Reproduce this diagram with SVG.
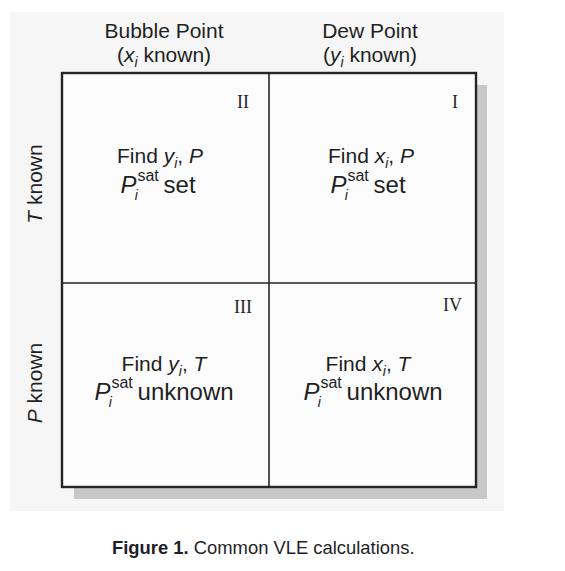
<svg xmlns="http://www.w3.org/2000/svg" width="565" height="571" viewBox="0 0 565 571">
<style>
.t{font-family:"Liberation Sans",Arial,sans-serif;fill:#1f1f1f}
.h{font-size:21px}
.l1{font-size:21px}
.l2{font-size:24px}
.it{font-style:italic}
.sup{font-size:16px}
.sub{font-size:14px;font-style:italic}
.rn{font-family:"Liberation Serif","Times New Roman",serif;font-size:18px;fill:#262626;text-anchor:end}
.ln{stroke:#262626}
.cap{font-family:"Liberation Sans",Arial,sans-serif;font-size:18.4px;fill:#1e1e28}
</style>
<rect width="565" height="571" fill="#ffffff"/>
<rect id="scan" x="10" y="12" width="494" height="499" fill="#f6f6f6"/>
<g id="shadow" fill="#c8c8c8">
<rect x="477" y="85" width="10" height="414"/>
<rect x="74" y="488" width="413" height="11"/>
</g>
<g id="headers">
<text class="t h" x="164" y="38" text-anchor="middle">Bubble Point</text>
<text class="t h" x="164" y="62" text-anchor="middle">(<tspan class="it">x</tspan><tspan class="it" font-size="14" dy="5">i</tspan><tspan dy="-5"> known)</tspan></text>
<text class="t h" x="370" y="38" text-anchor="middle">Dew Point</text>
<text class="t h" x="370" y="62" text-anchor="middle">(<tspan class="it">y</tspan><tspan class="it" font-size="14" dy="5">i</tspan><tspan dy="-5"> known)</tspan></text>
<text class="t h" transform="translate(42 184) rotate(-90)" text-anchor="middle"><tspan class="it">T</tspan> known</text>
<text class="t h" transform="translate(42 383) rotate(-90)" text-anchor="middle"><tspan class="it">P</tspan> known</text>
</g>
<g id="grid">
<rect x="62" y="73" width="414" height="414" style="fill:#fcfcfc;stroke:#262626;stroke-width:2.4"/>
<line class="ln" x1="269" y1="73" x2="269" y2="487" stroke-width="1.6"/>
<line class="ln" x1="62" y1="283" x2="476" y2="283" stroke-width="1.6"/>
</g>
<g id="cell-II">
<text class="rn" x="249" y="108">II</text>
<text class="t l1" x="160" y="163" text-anchor="middle">Find <tspan class="it">y</tspan><tspan class="it" font-size="14" dy="5">i</tspan><tspan dy="-5">, </tspan><tspan class="it">P</tspan></text>
<text class="t l2" x="158" y="193" text-anchor="middle"><tspan class="it">P</tspan><tspan class="sup" dx="1" dy="-12">sat</tspan><tspan class="sub" dx="-24" dy="19">i</tspan><tspan dx="19" dy="-7"> set</tspan></text>
</g>
<g id="cell-I">
<text class="rn" x="458" y="108">I</text>
<text class="t l1" x="371" y="163" text-anchor="middle">Find <tspan class="it">x</tspan><tspan class="it" font-size="14" dy="5">i</tspan><tspan dy="-5">, </tspan><tspan class="it">P</tspan></text>
<text class="t l2" x="368" y="193" text-anchor="middle"><tspan class="it">P</tspan><tspan class="sup" dx="1" dy="-12">sat</tspan><tspan class="sub" dx="-24" dy="19">i</tspan><tspan dx="19" dy="-7"> set</tspan></text>
</g>
<g id="cell-III">
<text class="rn" x="252" y="313">III</text>
<text class="t l1" x="164" y="371" text-anchor="middle">Find <tspan class="it">y</tspan><tspan class="it" font-size="14" dy="5">i</tspan><tspan dy="-5">, </tspan><tspan class="it">T</tspan></text>
<text class="t l2" x="164" y="400" text-anchor="middle"><tspan class="it">P</tspan><tspan class="sup" dx="1" dy="-12">sat</tspan><tspan class="sub" dx="-24" dy="19">i</tspan><tspan dx="19" dy="-7"> unknown</tspan></text>
</g>
<g id="cell-IV">
<text class="rn" x="462" y="311">IV</text>
<text class="t l1" x="368" y="371" text-anchor="middle">Find <tspan class="it">x</tspan><tspan class="it" font-size="14" dy="5">i</tspan><tspan dy="-5">, </tspan><tspan class="it">T</tspan></text>
<text class="t l2" x="373" y="400" text-anchor="middle"><tspan class="it">P</tspan><tspan class="sup" dx="1" dy="-12">sat</tspan><tspan class="sub" dx="-24" dy="19">i</tspan><tspan dx="19" dy="-7"> unknown</tspan></text>
</g>
<g id="connectors"></g>
<text class="cap" x="112" y="554"><tspan font-weight="bold">Figure 1.</tspan> Common VLE calculations.</text>
</svg>
